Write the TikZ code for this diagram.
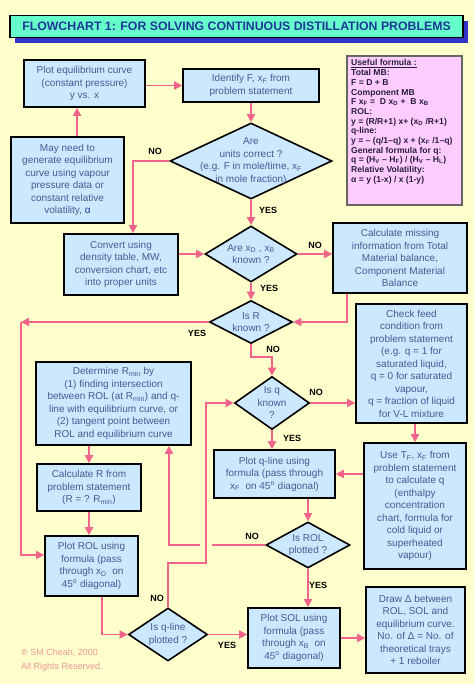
\documentclass[tikz,border=0pt]{standalone}
\usepackage{fontspec}
\setmainfont{Liberation Sans}
\usetikzlibrary{shapes.geometric,arrows.meta,calc}
\definecolor{bgy}{RGB}{255,255,204}
\definecolor{boxblue}{RGB}{204,232,255}
\definecolor{txtblue}{RGB}{70,90,145}
\definecolor{arrpink}{RGB}{240,100,140}
\definecolor{titlefill}{RGB}{102,255,204}
\definecolor{titleshadow}{RGB}{51,51,204}
\definecolor{titletext}{RGB}{30,55,150}
\definecolor{fpink}{RGB}{255,204,255}
\definecolor{ftxt}{RGB}{40,30,60}
\definecolor{copyc}{RGB}{235,150,150}
\tikzset{
  box/.style={draw=black, line width=1.6pt, fill=boxblue, text=txtblue, font=\fontsize{10}{12.5}\selectfont, align=center, inner sep=0pt},
  dia/.style={diamond, draw=black, line width=1.6pt, fill=boxblue, inner sep=0pt},
  dtext/.style={text=txtblue, font=\fontsize{10}{12.5}\selectfont, align=center, inner sep=0pt},
  arr/.style={draw=arrpink, line width=1.8pt, -{Triangle[length=8pt,width=8pt]}},
  lbl/.style={font=\bfseries\fontsize{9}{10}\selectfont, text=black, inner sep=0pt},
}
\begin{document}
\begin{tikzpicture}[x=1pt,y=-1pt]
\useasboundingbox (0,0) rectangle (474,684);
\fill[bgy] (0,0) rectangle (474,684);
% title
\fill[titleshadow] (15,21) rectangle (468,43);
\node[draw=black, line width=1.5pt, fill=titlefill, minimum width=453pt, minimum height=22pt, inner sep=0pt, text=titletext, font=\bfseries\fontsize{12.3}{13}\selectfont] (T) at (236.5,26.5) {FLOWCHART 1: FOR SOLVING CONTINUOUS DISTILLATION PROBLEMS};
% formula box
\node[draw=black!60, line width=1.6pt, fill=fpink, minimum width=115pt, minimum height=149pt, anchor=north west, inner sep=0pt] (FB) at (346,55) {};
\node[anchor=north west, align=left, inner sep=0pt, text=ftxt, font=\bfseries\fontsize{8.6}{9.7}\selectfont] (FT) at (351,59.5) {\underline{Useful formula :}\\Total MB:\\F = D + B\\Component MB\\F x\textsubscript{F} = ~D x\textsubscript{D} + ~B x\textsubscript{B}\\ROL:\\y = (R/R+1) x+ (x\textsubscript{D} /R+1)\\q-line:\\y = – (q/1–q) x + (x\textsubscript{F} /1–q)\\General formula for q:\\q = (H\textsubscript{V} – H\textsubscript{F}) / (H\textsubscript{V} – H\textsubscript{L})\\Relative Volatility:\\α = y (1-x) / x (1-y)};
% boxes
\node[box, minimum width=121pt, minimum height=47pt] (A) at (84.5,83.5) {Plot equilibrium curve\\(constant pressure)\\y vs. x};
\node[box, minimum width=113pt, minimum height=86pt] (B) at (67.5,180) {May need to\\generate equilibrium\\curve using vapour\\pressure data or\\constant relative\\volatility, \textcolor{titletext}{α}};
\node[box, minimum width=136pt, minimum height=33pt] (C) at (251,85.5) {Identify F, x\textsubscript{F} from\\problem statement};
\node[dia, minimum width=162pt, minimum height=76pt, label={[dtext]center:{Are\\units correct ?\\(e.g. F in mole/time, x\textsubscript{F}\\in mole fraction)}}] (D1) at (251,161) {};
\node[box, minimum width=114pt, minimum height=61pt] (E) at (121,264.5) {Convert using\\density table, MW,\\conversion chart, etc\\into proper units};
\node[dia, minimum width=92pt, minimum height=56pt, label={[dtext]center:{Are x\textsubscript{D} , x\textsubscript{B}\\known ?}}] (D2) at (251,254) {};
\node[box, minimum width=134pt, minimum height=70pt] (F) at (400,258) {Calculate missing\\information from Total\\Material balance,\\Component Material\\Balance};
\node[dia, minimum width=83pt, minimum height=43pt, label={[dtext]center:{Is R\\known ?}}] (D3) at (251,322) {};
\node[box, minimum width=111pt, minimum height=119pt] (G) at (411.5,363.5) {Check feed\\condition from\\problem statement\\(e.g. q = 1 for\\saturated liquid,\\q = 0 for saturated\\vapour,\\q = fraction of liquid\\for V-L mixture};
\node[dia, minimum width=75pt, minimum height=53pt, label={[dtext]center:{Is q\\known\\?}}] (D4) at (272,403) {};
\node[box, minimum width=155pt, minimum height=83pt] (Rmin) at (113.5,403.5) {Determine R\textsubscript{min} by\\(1) finding intersection\\between ROL (at R\textsubscript{min}) and q-\\line with equilibrium curve, or\\(2) tangent point between\\ROL and equilibrium curve};
\node[box, minimum width=104pt, minimum height=47pt] (CalcR) at (89,487.5) {Calculate R from\\problem statement\\(R = ? R\textsubscript{min})};
\node[box, minimum width=102pt, minimum height=126pt] (H) at (415,506) {Use T\textsubscript{F}, x\textsubscript{F} from\\problem statement\\to calculate q\\(enthalpy\\concentration\\chart, formula for\\cold liquid or\\superheated\\vapour)};
\node[box, minimum width=121pt, minimum height=48pt] (Q) at (274.5,474) {Plot q-line using\\formula (pass through\\x\textsubscript{F} ~on 45\textsuperscript{o} diagonal)};
\node[dia, minimum width=84pt, minimum height=46pt, label={[dtext]center:{Is ROL\\plotted ?}}] (D5) at (308,545) {};
\node[box, minimum width=93pt, minimum height=60pt] (ROL) at (91.5,566) {Plot ROL using\\formula (pass\\through x\textsubscript{D} ~on\\45\textsuperscript{o} diagonal)};
\node[dia, minimum width=79pt, minimum height=53pt, label={[dtext]center:{Is q-line\\plotted ?}}] (D6) at (168,634.5) {};
\node[box, minimum width=92pt, minimum height=60pt] (SOL) at (294,638) {Plot SOL using\\formula (pass\\through x\textsubscript{B} ~on\\45\textsuperscript{o} diagonal)};
\node[box, minimum width=99pt, minimum height=86pt] (DR) at (415.5,630) {Draw Δ between\\ROL, SOL and\\equilibrium curve.\\No. of Δ = No. of\\theoretical trays\\+ 1 reboiler};
% copyright
\node[text=copyc, font=\fontsize{9}{10}\selectfont, anchor=west, inner sep=0pt] (CP1) at (21,653) {® SM Cheah, 2000};
\node[text=copyc, font=\fontsize{9}{10}\selectfont, anchor=west, inner sep=0pt] (CP2) at (21,667) {All Rights Reserved.};
% connectors
\draw[arr] ([xshift=9.5pt]B.north) -- ([xshift=9.5pt]B.north |- A.south);
\draw[arr] (C.west -| A.east) -- (C.west);
\draw[arr] (C.south -| D1.north) -- (D1.north);
\draw[arr] (D1.west) -| ([xshift=12pt]E.north);
\draw[arr] (D1.south) -- (D2.north);
\draw[arr] (E.east |- D2.west) -- (D2.west);
\draw[arr] (D2.east) -- (D2.east -| F.west);
\draw[arr] (D2.south) -- (D3.north);
\draw[arr] ([xshift=-53pt]F.south) |- (D3.east);
\coordinate (c1) at (21,322);
\draw[arr] (D3.west) -- (c1);
\draw[arr] (c1) |- ([yshift=11pt]ROL.west);
\draw[arr] (D3.south) -- ++(0,13) -| (D4.north);
\draw[arr] (D4.east) -- (D4.east -| G.west);
\draw[arr] (H.north |- G.south) -- (H.north);
\draw[arr] (D4.south) -- (D4.south |- Q.north);
\draw[arr] (Q.east -| H.west) -- (Q.east);
\draw[arr] (Q.south -| D5.north) -- (D5.north);
\coordinate (c2) at (169,545);
\draw[arr] (D5.west) -- (c2) -- (c2 |- Rmin.south);
\fill[bgy] (200,539) rectangle (212,551);
\coordinate (c3) at (206,563);
\draw[arr] (D6.north) |- (c3) |- (D4.west);
\draw[arr] (Rmin.south -| CalcR.north) -- (CalcR.north);
\draw[arr] (CalcR.south) -- (CalcR.south |- ROL.north);
\draw[arr] ([xshift=10.5pt]ROL.south) |- (D6.west);
\draw[arr] (D6.east) -- (D6.east -| SOL.west);
\draw[arr] (D5.south) -- (D5.south |- SOL.north);
\draw[arr] (SOL.east) -- (SOL.east -| DR.west);
% labels
\node[lbl] (n1) at (155,151) {NO};
\node[lbl] (y1) at (268,210) {YES};
\node[lbl] (n2) at (315,245) {NO};
\node[lbl] (y2) at (269,288) {YES};
\node[lbl] (y3) at (197,333) {YES};
\node[lbl] (n3) at (273,349) {NO};
\node[lbl] (n4) at (316,392) {NO};
\node[lbl] (y4) at (292,438) {YES};
\node[lbl] (n5) at (252,536) {NO};
\node[lbl] (y5) at (318,585) {YES};
\node[lbl] (n6) at (157,598) {NO};
\node[lbl] (y6) at (227,645) {YES};
\end{tikzpicture}
\end{document}
